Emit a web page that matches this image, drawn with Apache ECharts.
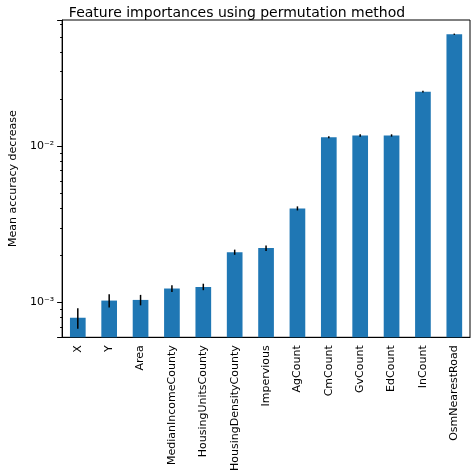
<!DOCTYPE html>
<html>
<head>
<meta charset="utf-8">
<script src="https://cdn.jsdelivr.net/npm/echarts@6/dist/echarts.min.js"></script>
<style>html,body{margin:0;padding:0;background:#fff}#chart{width:474px;height:474px}</style>
</head>
<body>
<div id="chart"></div>
<script>
const features = ['X', 'Y', 'Area', 'MedianIncomeCounty', 'HousingUnitsCounty', 'HousingDensityCounty',
  'Impervious', 'AgCount', 'CmCount', 'GvCount', 'EdCount', 'InCount', 'OsmNearestRoad'];
const importances = [0.00080, 0.00103, 0.00104, 0.00123, 0.00126, 0.00210, 0.00223, 0.00400,
  0.01140, 0.01170, 0.01170, 0.02230, 0.05190];
const errors = [0.00012, 0.00010, 0.00008, 0.00006, 0.00006, 0.00008, 0.00009, 0.00012,
  0.00015, 0.00020, 0.00020, 0.00030, 0.00050];
const yMin = 0.0006, yMax = 0.064;

const sup = {'-': '⁻', '0': '⁰', '1': '¹', '2': '²', '3': '³', '4': '⁴'};
const fmt = v => {
  const e = Math.round(Math.log10(v));
  return '10' + String(e).split('').map(c => sup[c]).join('');
};

const chart = echarts.init(document.getElementById('chart'));
chart.setOption({
  animation: false,
  title: {
    text: 'Feature importances using permutation method', left: 'center', top: 1,
    textStyle: {fontFamily: 'DejaVu Sans', fontSize: 14, fontWeight: 'normal', color: '#000'}
  },
  grid: {left: 50, right: 4, top: 20, bottom: 134, show: true, borderColor: '#000', borderWidth: 1},
  xAxis: {
    type: 'category', data: features,
    axisLine: {lineStyle: {color: '#000'}},
    axisTick: {alignWithLabel: true, lineStyle: {color: '#000'}},
    axisLabel: {rotate: 90, interval: 0, color: '#000', fontFamily: 'DejaVu Sans', fontSize: 11}
  },
  yAxis: {
    type: 'log', min: yMin, max: yMax, logBase: 10,
    name: 'Mean accuracy decrease', nameLocation: 'middle', nameGap: 38,
    nameTextStyle: {fontFamily: 'DejaVu Sans', fontSize: 11, color: '#000'},
    axisLine: {show: true, lineStyle: {color: '#000'}},
    axisTick: {show: true, lineStyle: {color: '#000'}},
    minorTick: {show: true, splitNumber: 9, length: 2, lineStyle: {color: '#000'}},
    splitLine: {show: false},
    axisLabel: {formatter: fmt, showMinLabel: false, showMaxLabel: false, color: '#000',
      fontFamily: 'DejaVu Sans', fontSize: 11}
  },
  series: [
    {
      type: 'custom',
      data: importances.map((v, i) => [i, v]),
      renderItem: (params, api) => {
        const top = api.coord([api.value(0), api.value(1)]);
        const base = api.coord([api.value(0), yMin]);
        const w = api.size([1, 0])[0] * 0.5;
        return {type: 'rect', shape: {x: top[0] - w / 2, y: top[1], width: w, height: base[1] - top[1]},
          style: {fill: '#1f77b4'}};
      }
    },
    {
      type: 'custom', z: 10,
      data: importances.map((v, i) => [i, v - errors[i], v + errors[i]]),
      renderItem: (params, api) => {
        const lo = api.coord([api.value(0), api.value(1)]);
        const hi = api.coord([api.value(0), api.value(2)]);
        return {type: 'line', shape: {x1: lo[0], y1: lo[1], x2: hi[0], y2: hi[1]},
          style: {stroke: '#000', lineWidth: 1.5}};
      }
    }
  ]
});
</script>
</body>
</html>
